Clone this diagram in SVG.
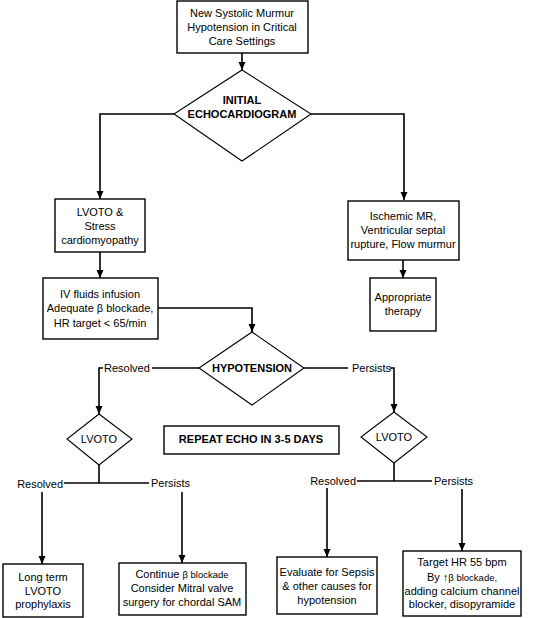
<svg xmlns="http://www.w3.org/2000/svg" width="558" height="618" viewBox="0 0 558 618">
<defs>
<marker id="ah" markerUnits="userSpaceOnUse" markerWidth="8" markerHeight="8" viewBox="0 0 8 8" refX="8" refY="4" orient="auto">
<path d="M0,0.5 L8,4 L0,7.5 Z" fill="#000"/>
</marker>
<style>
.box{fill:#fff;stroke:#000;stroke-width:1.4}
.dia{fill:#fff;stroke:#000;stroke-width:1.1}
.t{font-family:"Liberation Sans",Arial,sans-serif;font-size:11px;fill:#000;text-anchor:middle}
.b{font-weight:bold}
.lbl{font-family:"Liberation Sans",Arial,sans-serif;font-size:11px;fill:#000}
.c{fill:none;stroke:#000;stroke-width:1.6}
.sm{font-size:9.5px}
</style>
</defs>
<rect width="558" height="618" fill="#fff"/>
<g id="connectors">
<path class="c" d="M242,53 V70" marker-end="url(#ah)"/>
<path class="c" d="M174,114 H100 V199" marker-end="url(#ah)"/>
<path class="c" d="M311,114 H404 V200" marker-end="url(#ah)"/>
<path class="c" d="M100,252 V278" marker-end="url(#ah)"/>
<path class="c" d="M158,308 H252 V332" marker-end="url(#ah)"/>
<path class="c" d="M403,260 V278" marker-end="url(#ah)"/>
<path class="c" d="M199,368 H152"/>
<path class="c" d="M103,368 H99 V414" marker-end="url(#ah)"/>
<path class="c" d="M304,368 H348"/>
<path class="c" d="M390,368 H394 V412" marker-end="url(#ah)"/>
<path class="c" d="M99,465 V483"/>
<path class="c" d="M64,483 H149"/>
<path class="c" d="M42,492 V564" marker-end="url(#ah)"/>
<path class="c" d="M182,492 V563" marker-end="url(#ah)"/>
<path class="c" d="M394,463 V481"/>
<path class="c" d="M357,481 H432"/>
<path class="c" d="M327,488 V557" marker-end="url(#ah)"/>
<path class="c" d="M462,489 V551" marker-end="url(#ah)"/>
<text class="lbl" x="104" y="372">Resolved</text>
<text class="lbl" x="352" y="372">Persists</text>
<text class="lbl" x="63" y="488" text-anchor="end">Resolved</text>
<text class="lbl" x="151" y="487">Persists</text>
<text class="lbl" x="356" y="485" text-anchor="end">Resolved</text>
<text class="lbl" x="434" y="485">Persists</text>
</g>
<g id="start">
<rect class="box" x="177" y="1" width="131" height="52"/>
<text class="t" x="242" y="17">New Systolic Murmur</text>
<text class="t" x="242" y="31">Hypotension in Critical</text>
<text class="t" x="242" y="45">Care Settings</text>
</g>
<g id="echo">
<polygon class="dia" points="242,70 311,114 242,161 174,114"/>
<text class="t b" x="242" y="104">INITIAL</text>
<text class="t b" x="242" y="118">ECHOCARDIOGRAM</text>
</g>
<g id="lvoto-stress">
<rect class="box" x="55" y="199" width="90" height="53"/>
<text class="t" x="100" y="216">LVOTO &amp;</text>
<text class="t" x="100" y="230">Stress</text>
<text class="t" x="100" y="244">cardiomyopathy</text>
</g>
<g id="ischemic">
<rect class="box" x="348" y="201" width="111" height="59"/>
<text class="t" x="403" y="220">Ischemic MR,</text>
<text class="t" x="403" y="234">Ventricular septal</text>
<text class="t" x="403" y="248">rupture, Flow murmur</text>
</g>
<g id="iv-fluids">
<rect class="box" x="43" y="278" width="115" height="61"/>
<text class="t" x="100" y="298">IV fluids infusion</text>
<text class="t" x="100" y="312">Adequate β blockade,</text>
<text class="t" x="100" y="327">HR target &lt; 65/min</text>
</g>
<g id="appropriate">
<rect class="box" x="370" y="278" width="66" height="53"/>
<text class="t" x="403" y="301">Appropriate</text>
<text class="t" x="403" y="315">therapy</text>
</g>
<g id="hypotension">
<polygon class="dia" points="252,332 304,368 252,405 199,368"/>
<text class="t b" x="252" y="372">HYPOTENSION</text>
</g>
<g id="lvoto-left">
<polygon class="dia" points="99,414 132,439 99,465 67,439"/>
<text class="t" x="99" y="443">LVOTO</text>
</g>
<g id="repeat-echo">
<rect class="box" x="164" y="426" width="175" height="28"/>
<text class="t b" x="251" y="443">REPEAT ECHO IN 3-5 DAYS</text>
</g>
<g id="lvoto-right">
<polygon class="dia" points="394,412 427,437 394,463 361,437"/>
<text class="t" x="394" y="441">LVOTO</text>
</g>
<g id="long-term">
<rect class="box" x="3" y="564" width="80" height="53"/>
<text class="t" x="43" y="581">Long term</text>
<text class="t" x="43" y="595">LVOTO</text>
<text class="t" x="43" y="608">prophylaxis</text>
</g>
<g id="continue">
<rect class="box" x="119" y="563" width="127" height="52"/>
<text class="t" x="182" y="578">Continue <tspan class="sm">β blockade</tspan></text>
<text class="t" x="182" y="592">Consider Mitral valve</text>
<text class="t" x="182" y="606">surgery for chordal SAM</text>
</g>
<g id="evaluate">
<rect class="box" x="277" y="557" width="100" height="57"/>
<text class="t" x="327" y="576">Evaluate for Sepsis</text>
<text class="t" x="327" y="590">&amp; other causes for</text>
<text class="t" x="327" y="604">hypotension</text>
</g>
<g id="target">
<rect class="box" x="403" y="551" width="118" height="65"/>
<text class="t" x="462" y="566">Target HR 55 bpm</text>
<text class="t" x="462" y="581">By ↑<tspan class="sm">β blockade,</tspan></text>
<text class="t" x="462" y="595">adding calcium channel</text>
<text class="t" x="462" y="608">blocker, disopyramide</text>
</g>
</svg>
